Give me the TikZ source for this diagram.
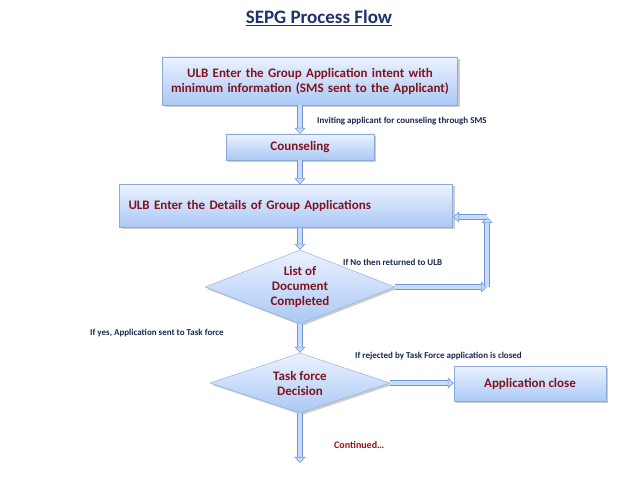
\documentclass[tikz,border=0pt]{standalone}
\usepackage{fontspec}
\setmainfont{Carlito}
\usetikzlibrary{shapes.geometric,arrows.meta,shadows,positioning}

\definecolor{boxtext}{RGB}{128,20,30}
\definecolor{notetext}{RGB}{25,40,80}
\definecolor{titleblue}{RGB}{30,50,110}
\definecolor{boxtop}{RGB}{235,242,255}
\definecolor{boxbot}{RGB}{170,200,245}
\definecolor{boxline}{RGB}{140,170,215}
\definecolor{arrowfill}{RGB}{200,220,250}
\definecolor{arrowline}{RGB}{110,150,215}

\tikzset{
  stage/.style={draw=boxline, top color=boxtop, bottom color=boxbot,
    drop shadow={shadow xshift=2pt, shadow yshift=-2pt, opacity=0.4},
    text=boxtext, font=\fontsize{13}{15}\selectfont\bfseries, align=center},
  check/.style={stage, diamond, aspect=2.6, inner sep=0pt},
  note/.style={text=notetext, font=\fontsize{9}{11}\selectfont\bfseries, anchor=west, inner sep=0pt},
  flow/.style={draw=arrowline, line width=0.6pt, double=arrowfill, double distance=4pt,
    -{Triangle[length=6pt,width=11pt,fill=arrowfill]}}
}

\begin{document}
\begin{tikzpicture}[x=1pt,y=-1pt]
  \useasboundingbox (0,0) rectangle (638,478);

  \node (title) at (319,18) {\fontsize{19}{21}\selectfont\bfseries\color{titleblue}%
    \underline{SEPG P\textsc{rocess} F\textsc{low}}};

  % boxes
  \node[stage, minimum width=295pt, minimum height=48pt, text width=280pt] (intent) at (310,81)
    {ULB Enter the Group Application intent with minimum information (SMS sent to the Applicant)};
  \node[stage, minimum width=148pt, minimum height=26pt] (couns) at (300,147) {Counseling};
  \node[stage, minimum width=333pt, minimum height=43pt, text width=315pt, align=left] (details) at (286,206)
    {ULB Enter the Details of Group Applications};
  \node[check, minimum width=190pt, minimum height=74pt] (docs) at (300,287) {List of\\Document\\Completed};
  \node[check, minimum width=180pt, minimum height=60pt] (task) at (300,383) {Task force\\Decision};
  \node[stage, minimum width=152pt, minimum height=35pt] (close) at (530,384) {Application close};

  \coordinate (br) at (487,287);
  \coordinate (tr) at (487,217);
  \coordinate (tl) at (453,217);
  \coordinate (end) at (300,463);

  % connectors
  \draw[flow] (intent.south -| couns) -- (couns.north);
  \draw[flow] (couns.south) -- (couns.south |- details.north);
  \draw[flow] (couns.south |- details.south) -- (docs.north);
  \draw[flow] (docs.east) -- (br);
  \draw[flow] (br) -- (tr);
  \draw[flow] (tr) -- (tl);
  \draw[flow] (docs.south) -- (task.north);
  \draw[flow] (task.east) -- (close.west |- task.east);
  \draw[flow] (task.south) -- (end);

  % notes
  \node[note] (n1) at (317,121) {Inviting applicant for counseling through SMS};
  \node[note] (n2) at (343,262) {If No then returned to ULB};
  \node[note] (n3) at (90,333) {If yes, Application sent to Task force};
  \node[note] (n4) at (355,356) {If rejected by Task Force application is closed};
  \node[note, text=boxtext!80!red, font=\fontsize{10}{12}\selectfont\bfseries] (n5) at (334,445) {Continued…};
\end{tikzpicture}
\end{document}
